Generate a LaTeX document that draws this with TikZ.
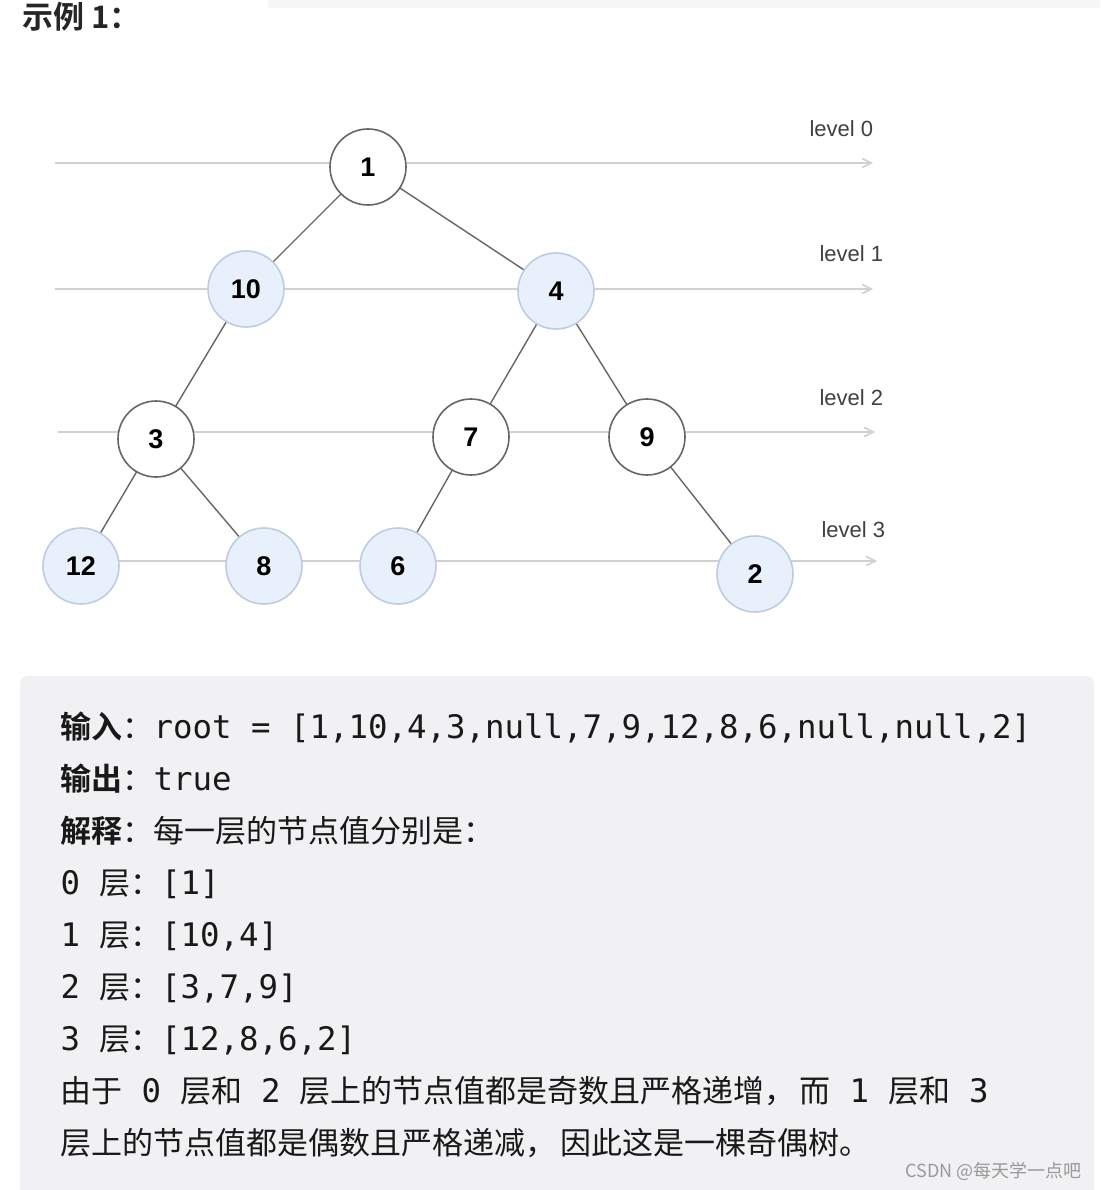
\documentclass[tikz,border=0pt]{standalone}
\usepackage{fontspec}
\setmainfont{Liberation Sans}
\newfontfamily\cjk{Noto Sans CJK SC}
\newfontfamily\cjkb{Noto Sans CJK SC Bold}
\newfontfamily\mono{DejaVu Sans Mono}[Scale=1.045]
\usetikzlibrary{arrows.meta}
\definecolor{nfill}{RGB}{232,240,251}
\definecolor{nline}{RGB}{190,204,226}
\definecolor{boxbg}{RGB}{241,241,243}
\newcommand{\gp}{\hspace{19pt}}
\begin{document}
\begin{tikzpicture}[x=1pt,y=-1pt,
  lvl/.style={draw=black!18,line width=1.6pt,-{Straight Barb[length=9pt,width=9pt]}},
  edge/.style={draw=black!60,line width=1.4pt},
  wn/.style={circle,draw=black!60,line width=1.6pt,fill=white,minimum size=76pt,inner sep=0pt,font=\fontsize{27}{27}\selectfont\bfseries},
  bn/.style={wn,draw=nline,fill=nfill},
  lbl/.style={font=\fontsize{22}{22}\selectfont,text=black!75,anchor=base west},
  txt/.style={anchor=base west,font=\fontsize{31}{31}\selectfont,text=black!90}]
\useasboundingbox (0,0) rectangle (1100,1190);
\fill[black!3] (268,-5) rectangle (1100,8);
\node[anchor=base west,inner sep=0pt,font=\fontsize{31}{31}\selectfont\cjkb,text=black!85] (title) at (22,29) {示例 1：};
% level lines
\coordinate (a0) at (55,163); \coordinate (b0) at (873,163);
\coordinate (a1) at (55,289); \coordinate (b1) at (873,289);
\coordinate (a2) at (58,432); \coordinate (b2) at (875,432);
\coordinate (a3) at (55,561); \coordinate (b3) at (877,561);
\foreach \i in {0,1,2,3} \draw[lvl] (a\i) -- (b\i);
\node[lbl] (l0) at (806,137) {level 0};
\node[lbl] (l1) at (816,261) {level 1};
\node[lbl] (l2) at (816,405) {level 2};
\node[lbl] (l3) at (818,537) {level 3};
% nodes
\path
 (368,167) coordinate (p1) (246,289) coordinate (p10) (556,291) coordinate (p4)
 (156,439) coordinate (p3) (471,437) coordinate (p7) (647,437) coordinate (p9)
 (81,566) coordinate (p12) (264,566) coordinate (p8) (398,566) coordinate (p6) (755,574) coordinate (p2);
\draw[edge] (p1)--(p10) (p1)--(p4) (p10)--(p3) (p4)--(p7) (p4)--(p9) (p3)--(p12) (p3)--(p8) (p7)--(p6) (p9)--(p2);
\node[wn] (n1) at (p1) {1};
\node[bn] (n10) at (p10) {10};
\node[bn] (n4) at (p4) {4};
\node[wn] (n3) at (p3) {3};
\node[wn] (n7) at (p7) {7};
\node[wn] (n9) at (p9) {9};
\node[bn] (n12) at (p12) {12};
\node[bn] (n8) at (p8) {8};
\node[bn] (n6) at (p6) {6};
\node[bn] (n2) at (p2) {2};
% text box
\fill[boxbg,rounded corners=8pt] (20,676) rectangle (1094,1200);
\node[txt] (t1) at (57,738) {{\cjkb 输入}{\cjk ：}\mono root = [1,10,4,3,null,7,9,12,8,6,null,null,2]};
\node[txt] (t2) at (57,790) {{\cjkb 输出}{\cjk ：}\mono true};
\node[txt] (t3) at (57,842) {{\cjkb 解释}\cjk ：每一层的节点值分别是：};
\node[txt] (t4) at (57,894) {{\mono 0}\gp{\cjk 层：}{\mono [1]}};
\node[txt] (t5) at (57,946) {{\mono 1}\gp{\cjk 层：}{\mono [10,4]}};
\node[txt] (t6) at (57,998) {{\mono 2}\gp{\cjk 层：}{\mono [3,7,9]}};
\node[txt] (t7) at (57,1050) {{\mono 3}\gp{\cjk 层：}{\mono [12,8,6,2]}};
\node[txt] (t8) at (57,1102) {\cjk 由于\gp{\mono 0}\gp 层和\gp{\mono 2}\gp 层上的节点值都是奇数且严格递增，\hspace{4pt}而\gp{\mono 1}\gp 层和\gp{\mono 3}};
\node[txt] (t9) at (57,1154) {\cjk 层上的节点值都是偶数且严格递减，\hspace{4pt}因此这是一棵奇偶树。};
\node[anchor=base east,font=\fontsize{18}{18}\selectfont\cjk,text=black!40] (wm) at (1085,1177) {CSDN @每天学一点吧};
\end{tikzpicture}
\end{document}
